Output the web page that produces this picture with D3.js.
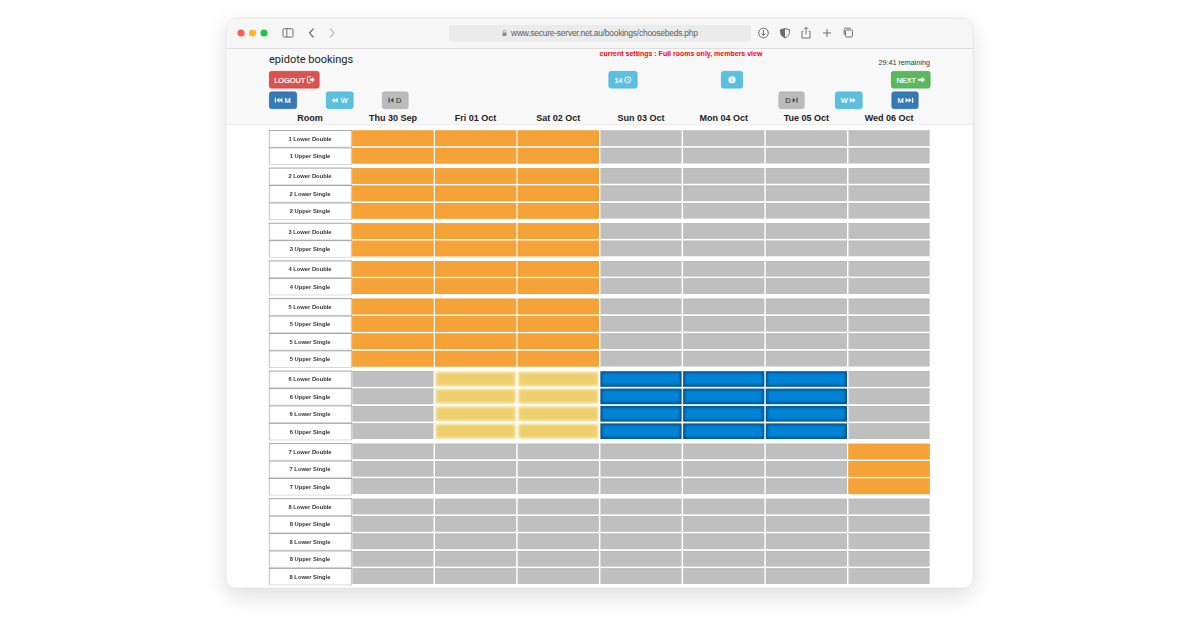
<!DOCTYPE html>
<html>
<head>
<meta charset="utf-8">
<title>epidote bookings</title>
<script src="https://cdn.jsdelivr.net/npm/d3@7"></script>
<style>
  html, body { margin: 0; padding: 0; background: #fff; }
  svg { display: block; font-family: "Liberation Sans", Arial, sans-serif; }
</style>
</head>
<body>
<svg id="page" width="1200" height="627"></svg>
<script>
  const dayLabels = ["Thu 30 Sep", "Fri 01 Oct", "Sat 02 Oct", "Sun 03 Oct", "Mon 04 Oct", "Tue 05 Oct", "Wed 06 Oct"];
  const roomLabels = [
    "1 Lower Double", "1 Upper Single",
    "2 Lower Double", "2 Lower Single", "2 Upper Single",
    "3 Lower Double", "3 Upper Single",
    "4 Lower Double", "4 Upper Single",
    "5 Lower Double", "5 Upper Single", "5 Lower Single", "5 Upper Single",
    "6 Lower Double", "6 Upper Single", "6 Lower Single", "6 Upper Single",
    "7 Lower Double", "7 Lower Single", "7 Upper Single",
    "8 Lower Double", "8 Upper Single", "8 Lower Single", "8 Upper Single", "8 Lower Single"
  ];
  // o = booked, g = closed, y = pending, b = selected
  const cellStatus = [
    "ooogggg", "ooogggg",
    "ooogggg", "ooogggg", "ooogggg",
    "ooogggg", "ooogggg",
    "ooogggg", "ooogggg",
    "ooogggg", "ooogggg", "ooogggg", "ooogggg",
    "gyybbbg", "gyybbbg", "gyybbbg", "gyybbbg",
    "ggggggo", "ggggggo", "ggggggo",
    "ggggggg", "ggggggg", "ggggggg", "ggggggg", "ggggggg"
  ];

  const svg = d3.select("#page");
  const defs = svg.append("defs");

  const shadow = defs.append("filter").attr("id", "window-shadow")
    .attr("x", "-10%").attr("y", "-10%").attr("width", "120%").attr("height", "125%");
  shadow.append("feDropShadow").attr("dx", 0).attr("dy", 8).attr("stdDeviation", 11)
    .attr("flood-color", "#000").attr("flood-opacity", 0.13);

  const soft = defs.append("filter").attr("id", "soft")
    .attr("x", "-10%").attr("y", "-30%").attr("width", "120%").attr("height", "160%");
  soft.append("feGaussianBlur").attr("stdDeviation", 1.3);

  const softer = defs.append("filter").attr("id", "softer")
    .attr("x", "-10%").attr("y", "-30%").attr("width", "120%").attr("height", "160%");
  softer.append("feGaussianBlur").attr("stdDeviation", 0.9);

  const textBlur = defs.append("filter").attr("id", "text-blur")
    .attr("x", "-5%").attr("y", "-20%").attr("width", "110%").attr("height", "140%");
  textBlur.append("feGaussianBlur").attr("stdDeviation", 0.22);

  // browser window
  svg.append("rect").attr("x", 226).attr("y", 18).attr("width", 747).attr("height", 570)
    .attr("rx", 10).attr("fill", "#fff").attr("filter", "url(#window-shadow)");
  const clip = defs.append("clipPath").attr("id", "window-clip");
  clip.append("rect").attr("x", 226).attr("y", 18).attr("width", 747).attr("height", 570).attr("rx", 10);
  const win = svg.append("g").attr("clip-path", "url(#window-clip)");
  win.append("rect").attr("x", 226).attr("y", 18).attr("width", 747).attr("height", 30).attr("fill", "#f6f6f7");
  win.append("rect").attr("x", 226).attr("y", 48).attr("width", 747).attr("height", 1).attr("fill", "#dedede");
  win.append("rect").attr("x", 226).attr("y", 49).attr("width", 747).attr("height", 75).attr("fill", "#f8f8f8");
  win.append("rect").attr("x", 226).attr("y", 124).attr("width", 747).attr("height", 1).attr("fill", "#eeeeee");
  svg.append("rect").attr("x", 226).attr("y", 18).attr("width", 747).attr("height", 570)
    .attr("rx", 10).attr("fill", "none").attr("stroke", "#e6e6e6").attr("stroke-width", 0.75);

  // toolbar
  const toolbar = svg.append("g");
  [[241, "#fc5b57"], [252.5, "#fcb92e"], [264, "#28c63f"]].forEach(([cx, c]) => {
    toolbar.append("circle").attr("cx", cx).attr("cy", 33).attr("r", 3.6).attr("fill", c);
  });
  const icon = toolbar.append("g").attr("fill", "none").attr("stroke", "#6e6e70").attr("stroke-width", 1);
  icon.append("rect").attr("x", 283).attr("y", 28.7).attr("width", 10).attr("height", 8.4).attr("rx", 1.4);
  icon.append("path").attr("d", "M286.8 28.7V37.1");
  icon.append("path").attr("d", "M313.5 28.5L309.5 33L313.5 37.5").attr("stroke-width", 1.2);
  icon.append("path").attr("d", "M330 28.5L334 33L330 37.5").attr("stroke", "#bdbdbf").attr("stroke-width", 1.2);

  toolbar.append("rect").attr("x", 449).attr("y", 25).attr("width", 302).attr("height", 16.5)
    .attr("rx", 4).attr("fill", "#ebebec");
  toolbar.append("rect").attr("x", 502.5).attr("y", 32.5).attr("width", 4).attr("height", 3.4)
    .attr("rx", 0.5).attr("fill", "#8a8a8c");
  toolbar.append("path").attr("d", "M503.4 32.5V31.4a1.1 1.1 0 0 1 2.2 0V32.5")
    .attr("fill", "none").attr("stroke", "#8a8a8c").attr("stroke-width", 0.6);
  toolbar.append("text").attr("x", 511).attr("y", 36).attr("font-size", 8.5).attr("fill", "#5d5d5f")
    .attr("textLength", 187).attr("lengthAdjust", "spacing")
    .text("www.secure-server.net.au/bookings/choosebeds.php");
  icon.append("path").attr("d", "M746 32.5a2.8 2.8 0 1 1 -1.2 -2.2M744.8 28.8V30.6H743").attr("stroke", "#9a9a9c").attr("stroke-width", 0.7);

  icon.append("circle").attr("cx", 763.5).attr("cy", 33).attr("r", 4.8);
  icon.append("path").attr("d", "M763.5 30V35.4M761.5 33.6L763.5 35.6L765.5 33.6");
  icon.append("path").attr("d", "M785 28.5L789.6 29.8C789.6 34 788.6 36.3 785 37.8C781.4 36.3 780.4 34 780.4 29.8Z");
  toolbar.append("path").attr("d", "M785 28.5L780.4 29.8C780.4 34 781.4 36.3 785 37.8Z").attr("fill", "#6e6e70");
  icon.append("path").attr("d", "M803.2 31.5H802V38H810V31.5H808.8M806 34.5V27.5M804 29.3L806 27.3L808 29.3");
  icon.append("path").attr("d", "M827 29V37M823 33H831");
  icon.append("rect").attr("x", 845.5).attr("y", 30).attr("width", 7).attr("height", 7).attr("rx", 1.2);
  icon.append("path").attr("d", "M844.2 34.8V29.4Q844.2 28.2 845.4 28.2H850.6");

  // page header
  svg.append("text").attr("x", 269).attr("y", 63.3).attr("font-size", 11).attr("fill", "#222")
    .attr("font-family", "Roboto, 'Liberation Sans', sans-serif").text("epidote bookings");
  svg.append("text").attr("x", 599.5).attr("y", 55.6).attr("font-size", 7).attr("font-weight", "bold")
    .attr("fill", "#fb0010").text("current settings : Full rooms only, members view");
  svg.append("text").attr("x", 930).attr("y", 65).attr("font-size", 7.2).attr("text-anchor", "end")
    .attr("fill", "#333").text("29:41 remaining");

  const navButtons = [
    { x: 269, y: 71, w: 50.5, label: "LOGOUT", fill: "#d9534f", stroke: "#d43f3a", color: "#fff", icon: "logout" },
    { x: 608.5, y: 71, w: 29, label: "14", fill: "#5bc0de", stroke: "#46b8da", color: "#fff", icon: "clock" },
    { x: 721, y: 71, w: 22, label: "", fill: "#5bc0de", stroke: "#46b8da", color: "#fff", icon: "info" },
    { x: 891, y: 71, w: 39.5, label: "NEXT", fill: "#5cb85c", stroke: "#4cae4c", color: "#fff", icon: "arrow" },
    { x: 269, y: 91.5, w: 28, label: "M", fill: "#337ab7", stroke: "#2e6da4", color: "#fff", icon: "first" },
    { x: 326, y: 91.5, w: 27.5, label: "W", fill: "#5bc0de", stroke: "#46b8da", color: "#fff", icon: "back" },
    { x: 382, y: 91.5, w: 26.5, label: "D", fill: "#bbbbbb", stroke: "#adadad", color: "#444", icon: "stepback" },
    { x: 778.5, y: 91.5, w: 26, label: "D", fill: "#bbbbbb", stroke: "#adadad", color: "#444", icon: "stepnext" },
    { x: 835, y: 91.5, w: 27.5, label: "W", fill: "#5bc0de", stroke: "#46b8da", color: "#fff", icon: "forward" },
    { x: 891.5, y: 91.5, w: 27, label: "M", fill: "#337ab7", stroke: "#2e6da4", color: "#fff", icon: "last" }
  ];

  // small glyph drawn around its own origin, at the vertical middle of the button
  function drawGlyph(g, name, color) {
    const tri = (x, dir) => `M${x} -2.6L${x + dir * 3} 0L${x} 2.6Z`;
    const bar = (x) => `M${x - 0.6} -2.6h1.2v5.2h-1.2Z`;
    const shapes = {
      first: bar(0) + tri(4, -1) + tri(7, -1),
      last: tri(0, 1) + tri(3, 1) + bar(7),
      back: tri(3, -1) + tri(6, -1),
      forward: tri(0, 1) + tri(3, 1),
      stepback: bar(0) + tri(4.4, -1),
      stepnext: tri(0, 1) + bar(4.4),
      arrow: "M0 -0.9H3.6V-2.9L7 0L3.6 2.9V0.9H0Z"
    };
    if (shapes[name]) {
      g.append("path").attr("d", shapes[name]).attr("fill", color);
    } else if (name === "logout") {
      g.append("path").attr("d", "M3.5 -3H1Q0 -3 0 -2V2Q0 3 1 3H3.5").attr("fill", "none")
        .attr("stroke", color).attr("stroke-width", 1);
      g.append("path").attr("d", "M2.4 -0.9H4.6V-2.8L7.4 0L4.6 2.8V0.9H2.4Z").attr("fill", color);
    } else if (name === "clock") {
      g.append("circle").attr("r", 3.1).attr("cx", 3.2).attr("fill", "none").attr("stroke", color).attr("stroke-width", 0.9);
      g.append("path").attr("d", "M3.2 -1.8V0.2H4.8").attr("fill", "none").attr("stroke", color).attr("stroke-width", 0.7);
    } else if (name === "info") {
      g.append("circle").attr("r", 3.6).attr("fill", color);
      g.append("path").attr("d", "M-0.6 -2.3h1.2v1.1h-1.2ZM-0.6 -0.5h1.2v2.6h-1.2Z").attr("fill", "#5bc0de");
    }
  }

  const buttons = svg.append("g").selectAll("g").data(navButtons).join("g")
    .attr("transform", (d) => `translate(${d.x},${d.y})`);
  buttons.append("rect").attr("x", 0.4).attr("y", 0.4)
    .attr("width", (d) => d.w - 0.8).attr("height", 16.7).attr("rx", 2)
    .attr("fill", (d) => d.fill).attr("stroke", (d) => d.stroke).attr("stroke-width", 0.8);
  buttons.each(function (d) {
    const g = d3.select(this);
    const leadingGlyph = ["first", "back", "stepback"].includes(d.icon);
    const text = g.append("text").attr("y", 11.5).attr("font-size", 7.4).attr("fill", d.color)
      .attr("stroke", d.color).attr("stroke-width", 0.2).text(d.label);
    const textWidth = d.label ? text.node().getComputedTextLength() : 0;
    const glyphWidth = d.icon === "stepback" || d.icon === "stepnext" ? 5 : d.icon === "info" ? 0 : 7;
    const gap = d.label ? 2 : 0;
    const start = (d.w - textWidth - glyphWidth - gap) / 2;
    if (leadingGlyph) {
      text.attr("x", start + glyphWidth + gap);
      drawGlyph(g.append("g").attr("transform", `translate(${start},8.75)`), d.icon, d.color);
    } else {
      text.attr("x", start);
      const gx = d.icon === "info" ? d.w / 2 : start + textWidth + gap;
      drawGlyph(g.append("g").attr("transform", `translate(${gx},8.75)`), d.icon, d.color);
    }
  });

  // grid scales
  const x = d3.scaleBand().domain(dayLabels).range([351.9, 930.1]).paddingInner(0.018).paddingOuter(0.005);
  const rowStep = 17.4;
  const groupGap = 2.9;
  const y = d3.scaleLinear().domain([0, 1]).range([130, 130 + rowStep]);
  const rows = roomLabels.map((label, i) => {
    const group = roomLabels.slice(0, i + 1).reduce((n, r, k) => n + (k > 0 && r[0] !== roomLabels[k - 1][0] ? 1 : 0), 0);
    return { label, status: cellStatus[i], top: y(i + group * groupGap / rowStep) };
  });

  // column headings
  const headings = svg.append("g").attr("font-size", 9).attr("font-weight", "bold").attr("fill", "#222").attr("text-anchor", "middle");
  headings.append("text").attr("x", 310).attr("y", 120.5).text("Room");
  headings.selectAll("text.day").data(dayLabels).join("text").attr("class", "day")
    .attr("x", (d) => x(d) + x.bandwidth() / 2).attr("y", 120.5).text((d) => d);

  const rowGroups = svg.append("g").selectAll("g").data(rows).join("g")
    .attr("transform", (d) => `translate(0,${d.top})`);

  // room name cells
  rowGroups.append("rect").attr("x", 268.8).attr("y", 0).attr("width", 83.2).attr("height", rowStep)
    .attr("fill", "#cdcdcd");
  rowGroups.append("rect").attr("x", 268.8).attr("y", 0).attr("width", 83.2).attr("height", 1).attr("fill", "#a6a6a6");
  rowGroups.append("rect").attr("x", 270.1).attr("y", 1).attr("width", 80.7).attr("height", rowStep - 1.7).attr("fill", "#fff");
  rowGroups.append("text").attr("x", 310).attr("y", 10.8).attr("text-anchor", "middle")
    .attr("font-size", 5.8).attr("font-weight", "bold").attr("fill", "#333")
    .attr("filter", "url(#text-blur)").text((d) => d.label);

  // booking cells
  const cellHeight = rowStep - 1.8;
  const fills = { o: "#f5a338", g: "#bfbfbf", y: "#fbf0c8", b: "#03558f" };
  const cells = rowGroups.selectAll("g.cell")
    .data((d) => dayLabels.map((day, i) => ({ day, status: d.status[i] })))
    .join("g").attr("class", "cell")
    .attr("transform", (d) => `translate(${x(d.day)},0.5)`);
  cells.append("rect").attr("width", x.bandwidth()).attr("height", cellHeight)
    .attr("fill", (d) => fills[d.status]);
  cells.filter((d) => d.status === "o").append("rect")
    .attr("x", 0.35).attr("y", 0.35).attr("width", x.bandwidth() - 0.7).attr("height", cellHeight - 0.7)
    .attr("fill", "none").attr("stroke", "#f59f2c").attr("stroke-width", 0.7);
  cells.filter((d) => d.status === "g").append("rect")
    .attr("width", x.bandwidth()).attr("height", 0.7).attr("fill", "#b5b5b5");
  cells.filter((d) => d.status === "y").append("rect")
    .attr("x", 1.4).attr("y", 1.4).attr("width", x.bandwidth() - 2.8).attr("height", cellHeight - 2.8)
    .attr("fill", "#efcf6d").attr("filter", "url(#soft)");
  cells.filter((d) => d.status === "b").append("rect")
    .attr("x", 1.9).attr("y", 1.9).attr("width", x.bandwidth() - 3.8).attr("height", cellHeight - 3.8)
    .attr("fill", "#0682d6").attr("filter", "url(#softer)");
</script>
</body>
</html>
